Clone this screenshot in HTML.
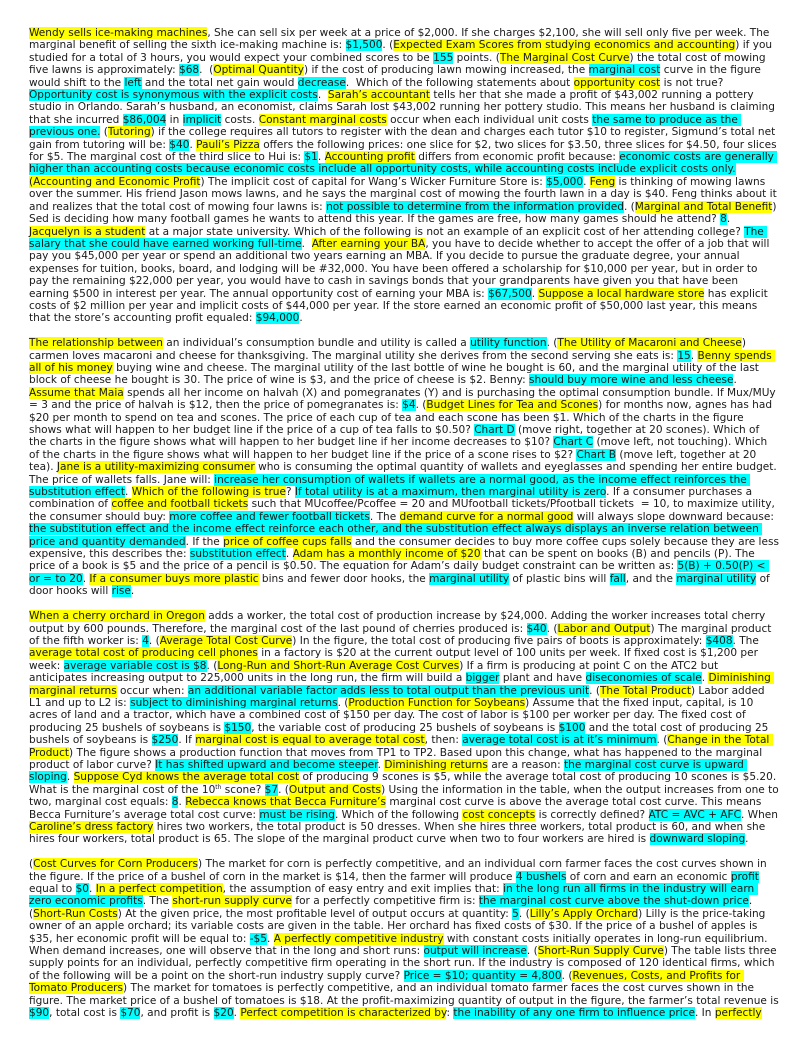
<!DOCTYPE html>
<html><head><meta charset="utf-8">
<style>
html,body{margin:0;padding:0;background:#fff;}
body{width:811px;height:1050px;overflow:hidden;}
#t{position:absolute;left:29px;top:27px;font-family:"DejaVu Sans","Liberation Sans",sans-serif;font-size:10.55px;line-height:12.42px;color:#1a1a1a;}
#t div{white-space:pre;height:12.42px;}
b{font-weight:normal;background:#ffff00;}
i{font-style:normal;background:#00ffff;}
sup{font-size:6px;line-height:0;vertical-align:4px;}
</style></head><body>
<div id="t">
<div><b>Wendy sells ice-making machines</b>, She can sell six per week at a price of $2,000. If she charges $2,100, she will sell only five per week. The</div>
<div>marginal benefit of selling the sixth ice-making machine is: <i>$1,500</i>. (<b>Expected Exam Scores from studying economics and accounting</b>) if you</div>
<div>studied for a total of 3 hours, you would expect your combined scores to be <i>155</i> points. (<b>The Marginal Cost Curve</b>) the total cost of mowing</div>
<div>five lawns is approximately: <i>$68</i>.  (<b>Optimal Quantity</b>) if the cost of producing lawn mowing increased, the <i>marginal cost</i> curve in the figure</div>
<div>would shift to the <i>left</i> and the total net gain would <i>decrease</i>.  Which of the following statements about <b>opportunity cost</b> is not true?</div>
<div><i>Opportunity cost is synonymous with the explicit costs</i>.  <b>Sarah’s accountant</b> tells her that she made a profit of $43,002 running a pottery</div>
<div>studio in Orlando. Sarah’s husband, an economist, claims Sarah lost $43,002 running her pottery studio. This means her husband is claiming</div>
<div>that she incurred <i>$86,004</i> in <i>implicit</i> costs. <b>Constant marginal costs</b> occur when each individual unit costs <i>the same to produce as the </i></div>
<div><i>previous one.</i> (<b>Tutoring</b>) if the college requires all tutors to register with the dean and charges each tutor $10 to register, Sigmund’s total net</div>
<div>gain from tutoring will be: <i>$40</i>. <b>Pauli’s Pizza</b> offers the following prices: one slice for $2, two slices for $3.50, three slices for $4.50, four slices</div>
<div>for $5. The marginal cost of the third slice to Hui is: <i>$1</i>. <b>Accounting profit</b> differs from economic profit because: <i>economic costs are generally </i></div>
<div><i>higher than accounting costs because economic costs include all opportunity costs, while accounting costs include explicit costs only.</i></div>
<div><b>(Accounting and Economic Profit</b>) The implicit cost of capital for Wang’s Wicker Furniture Store is: <i>$5,000</i>. <b>Feng</b> is thinking of mowing lawns</div>
<div>over the summer. His friend Jason mows lawns, and he says the marginal cost of mowing the fourth lawn in a day is $40. Feng thinks about it</div>
<div>and realizes that the total cost of mowing four lawns is: <i>not possible to determine from the information provided</i>. (<b>Marginal and Total Benefit</b>)</div>
<div>Sed is deciding how many football games he wants to attend this year. If the games are free, how many games should he attend? <i>8</i>.</div>
<div><b>Jacquelyn is a student</b> at a major state university. Which of the following is not an example of an explicit cost of her attending college? <i>The </i></div>
<div><i>salary that she could have earned working full-time</i>.  <b>After earning your BA</b>, you have to decide whether to accept the offer of a job that will</div>
<div>pay you $45,000 per year or spend an additional two years earning an MBA. If you decide to pursue the graduate degree, your annual</div>
<div>expenses for tuition, books, board, and lodging will be #32,000. You have been offered a scholarship for $10,000 per year, but in order to</div>
<div>pay the remaining $22,000 per year, you would have to cash in savings bonds that your grandparents have given you that have been</div>
<div>earning $500 in interest per year. The annual opportunity cost of earning your MBA is: <i>$67,500</i>. <b>Suppose a local hardware store</b> has explicit</div>
<div>costs of $2 million per year and implicit costs of $44,000 per year. If the store earned an economic profit of $50,000 last year, this means</div>
<div>that the store’s accounting profit equaled: <i>$94,000</i>.</div>
<div> </div>
<div><b>The relationship between</b> an individual’s consumption bundle and utility is called a <i>utility function</i>. (<b>The Utility of Macaroni and Cheese</b>)</div>
<div>carmen loves macaroni and cheese for thanksgiving. The marginal utility she derives from the second serving she eats is: <i>15</i>. <b>Benny spends </b></div>
<div><b>all of his money</b> buying wine and cheese. The marginal utility of the last bottle of wine he bought is 60, and the marginal utility of the last</div>
<div>block of cheese he bought is 30. The price of wine is $3, and the price of cheese is $2. Benny: <i>should buy more wine and less cheese</i>.</div>
<div><b>Assume that Maia</b> spends all her income on halvah (X) and pomegranates (Y) and is purchasing the optimal consumption bundle. If Mux/MUy</div>
<div>= 3 and the price of halvah is $12, then the price of pomegranates is: <i>$4</i>. (<b>Budget Lines for Tea and Scones</b>) for months now, agnes has had</div>
<div>$20 per month to spend on tea and scones. The price of each cup of tea and each scone has been $1. Which of the charts in the figure</div>
<div>shows what will happen to her budget line if the price of a cup of tea falls to $0.50? <i>Chart D</i> (move right, together at 20 scones). Which of</div>
<div>the charts in the figure shows what will happen to her budget line if her income decreases to $10? <i>Chart C</i> (move left, not touching). Which</div>
<div>of the charts in the figure shows what will happen to her budget line if the price of a scone rises to $2? <i>Chart B</i> (move left, together at 20</div>
<div>tea). <b>Jane is a utility-maximizing consumer</b> who is consuming the optimal quantity of wallets and eyeglasses and spending her entire budget.</div>
<div>The price of wallets falls. Jane will: <i>increase her consumption of wallets if wallets are a normal good, as the income effect reinforces the </i></div>
<div><i>substitution effect</i>. <b>Which of the following is true</b>? <i>If total utility is at a maximum, then marginal utility is zero</i>. If a consumer purchases a</div>
<div>combination of <b>coffee and football tickets</b> such that MUcoffee/Pcoffee = 20 and MUfootball tickets/Pfootball tickets  = 10, to maximize utility,</div>
<div>the consumer should buy: <i>more coffee and fewer football tickets</i>. The <b>demand curve for a normal good</b> will always slope downward because:</div>
<div><i>the substitution effect and the income effect reinforce each other, and the substitution effect always displays an inverse relation between </i></div>
<div><i>price and quantity demanded</i>. If the <b>price of coffee cups falls</b> and the consumer decides to buy more coffee cups solely because they are less</div>
<div>expensive, this describes the: <i>substitution effect</i>. <b>Adam has a monthly income of $20</b> that can be spent on books (B) and pencils (P). The</div>
<div>price of a book is $5 and the price of a pencil is $0.50. The equation for Adam’s daily budget constraint can be written as: <i>5(B) + 0.50(P) &lt; </i></div>
<div><i>or = to 20</i>. <b>If a consumer buys more plastic</b> bins and fewer door hooks, the <i>marginal utility</i> of plastic bins will <i>fall</i>, and the <i>marginal utility</i> of</div>
<div>door hooks will <i>rise</i>.</div>
<div> </div>
<div><b>When a cherry orchard in Oregon</b> adds a worker, the total cost of production increase by $24,000. Adding the worker increases total cherry</div>
<div>output by 600 pounds. Therefore, the marginal cost of the last pound of cherries produced is: <i>$40</i>. (<b>Labor and Output</b>) The marginal product</div>
<div>of the fifth worker is: <i>4</i>. (<b>Average Total Cost Curve</b>) In the figure, the total cost of producing five pairs of boots is approximately: <i>$408</i>. The</div>
<div><b>average total cost of producing cell phones</b> in a factory is $20 at the current output level of 100 units per week. If fixed cost is $1,200 per</div>
<div>week: <i>average variable cost is $8</i>. (<b>Long-Run and Short-Run Average Cost Curves</b>) If a firm is producing at point C on the ATC2 but</div>
<div>anticipates increasing output to 225,000 units in the long run, the firm will build a <i>bigger</i> plant and have <i>diseconomies of scale</i>. <b>Diminishing </b></div>
<div><b>marginal returns</b> occur when: <i>an additional variable factor adds less to total output than the previous unit</i>. (<b>The Total Product</b>) Labor added</div>
<div>L1 and up to L2 is: <i>subject to diminishing marginal returns</i>. (<b>Production Function for Soybeans</b>) Assume that the fixed input, capital, is 10</div>
<div>acres of land and a tractor, which have a combined cost of $150 per day. The cost of labor is $100 per worker per day. The fixed cost of</div>
<div>producing 25 bushels of soybeans is <i>$150</i>, the variable cost of producing 25 bushels of soybeans is <i>$100</i> and the total cost of producing 25</div>
<div>bushels of soybeans is <i>$250</i>. If <b>marginal cost is equal to average total cost</b>, then: <i>average total cost is at it’s minimum</i>. (<b>Change in the Total </b></div>
<div><b>Product</b>) The figure shows a production function that moves from TP1 to TP2. Based upon this change, what has happened to the marginal</div>
<div>product of labor curve? <i>It has shifted upward and become steeper</i>. <b>Diminishing returns</b> are a reason: <i>the marginal cost curve is upward </i></div>
<div><i>sloping</i>. <b>Suppose Cyd knows the average total cost</b> of producing 9 scones is $5, while the average total cost of producing 10 scones is $5.20.</div>
<div>What is the marginal cost of the 10<sup>th</sup> scone? <i>$7</i>. (<b>Output and Costs</b>) Using the information in the table, when the output increases from one to</div>
<div>two, marginal cost equals: <i>8</i>. <b>Rebecca knows that Becca Furniture’s</b> marginal cost curve is above the average total cost curve. This means</div>
<div>Becca Furniture’s average total cost curve: <i>must be rising</i>. Which of the following <b>cost concepts</b> is correctly defined? <i>ATC = AVC + AFC</i>. When</div>
<div><b>Caroline’s dress factory</b> hires two workers, the total product is 50 dresses. When she hires three workers, total product is 60, and when she</div>
<div>hires four workers, total product is 65. The slope of the marginal product curve when two to four workers are hired is <i>downward sloping</i>.</div>
<div> </div>
<div>(<b>Cost Curves for Corn Producers</b>) The market for corn is perfectly competitive, and an individual corn farmer faces the cost curves shown in</div>
<div>the figure. If the price of a bushel of corn in the market is $14, then the farmer will produce <i>4 bushels</i> of corn and earn an economic <i>profit</i></div>
<div>equal to <i>$0</i>. <b>In a perfect competition</b>, the assumption of easy entry and exit implies that: <i>in the long run all firms in the industry will earn </i></div>
<div><i>zero economic profits</i>. The <b>short-run supply curve</b> for a perfectly competitive firm is: <i>the marginal cost curve above the shut-down price</i>.</div>
<div>(<b>Short-Run Costs</b>) At the given price, the most profitable level of output occurs at quantity: <i>5</i>. (<b>Lilly’s Apply Orchard</b>) Lilly is the price-taking</div>
<div>owner of an apple orchard; its variable costs are given in the table. Her orchard has fixed costs of $30. If the price of a bushel of apples is</div>
<div>$35, her economic profit will be equal to: <i>-$5</i>. <b>A perfectly competitive industry</b> with constant costs initially operates in long-run equilibrium.</div>
<div>When demand increases, one will observe that in the long and short runs: <i>output will increase</i>. (<b>Short-Run Supply Curve</b>) The table lists three</div>
<div>supply points for an individual, perfectly competitive firm operating in the short run. If the industry is composed of 120 identical firms, which</div>
<div>of the following will be a point on the short-run industry supply curve? <i>Price = $10; quantity = 4,800</i>. (<b>Revenues, Costs, and Profits for </b></div>
<div><b>Tomato Producers</b>) The market for tomatoes is perfectly competitive, and an individual tomato farmer faces the cost curves shown in the</div>
<div>figure. The market price of a bushel of tomatoes is $18. At the profit-maximizing quantity of output in the figure, the farmer’s total revenue is</div>
<div><i>$90</i>, total cost is <i>$70</i>, and profit is <i>$20</i>. <b>Perfect competition is characterized by</b>: <i>the inability of any one firm to influence price</i>. In <b>perfectly</b></div>
</div>
</body></html>
